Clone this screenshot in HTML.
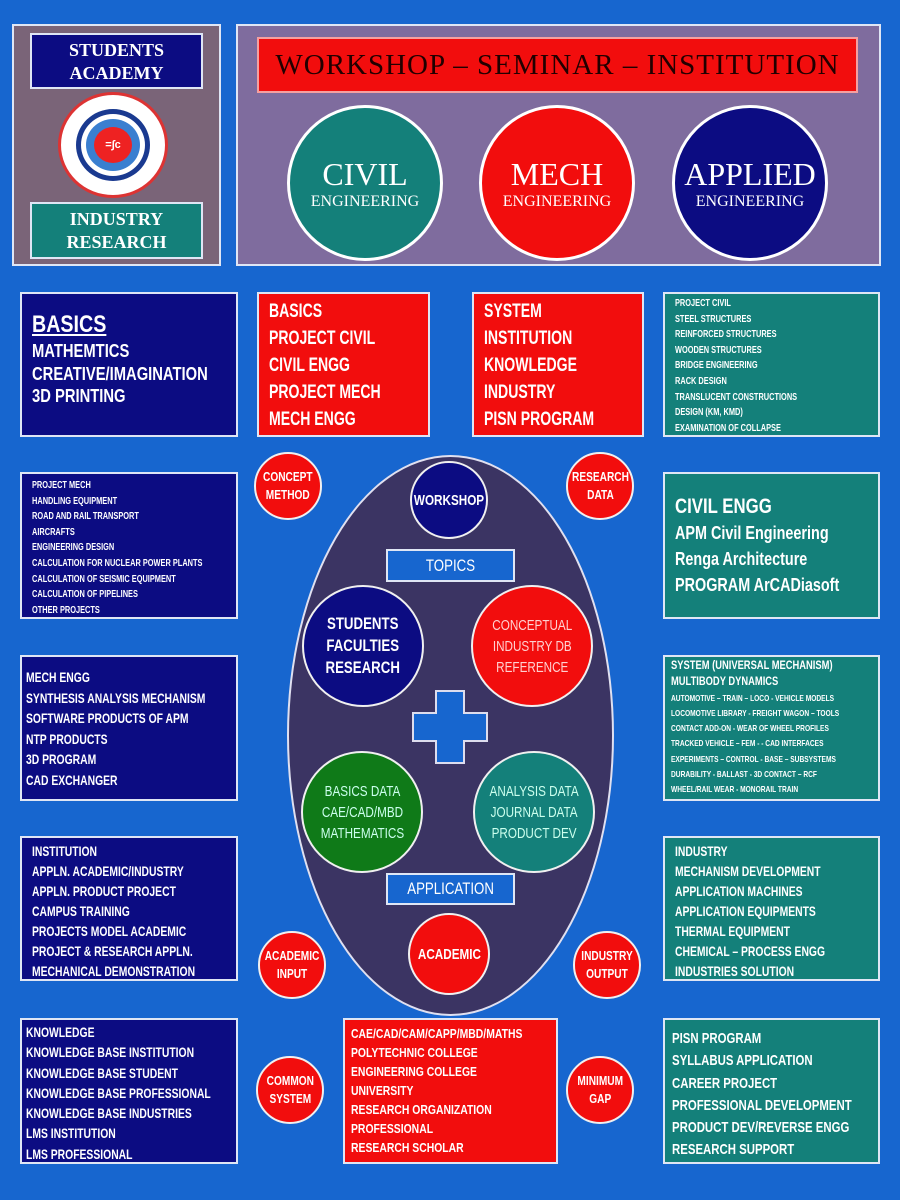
<!DOCTYPE html><html><head><style>
body{margin:0;width:900px;height:1200px;background:#1766cf;position:relative;overflow:hidden;font-family:"Liberation Sans",sans-serif;font-weight:bold;color:#fff}
div{position:absolute;box-sizing:border-box}
.b{border:2px solid #dfe6f5}
.nv{background:#0c0c82}.rd{background:#f20d0d}.tl{background:#14807a}
.c{border-radius:50%;border:2px solid #f0f0f0;display:flex;flex-direction:column;align-items:center;justify-content:center;text-align:center;white-space:nowrap}
.serif{font-family:"Liberation Serif",serif}
.t{padding:6px 10px;line-height:1.25;white-space:nowrap;overflow:hidden}
.s{display:inline-block;transform:scaleX(.74);transform-origin:0 0}
.cs{display:inline-block;transform:scaleX(.78)}
</style></head><body>
<div class="b" style="left:12px;top:24px;width:209px;height:242px;background:#7a6478"></div>
<div class="b" style="left:236px;top:24px;width:645px;height:242px;background:#7f6c9e"></div>
<div class="b nv serif" style="left:30px;top:33px;width:173px;height:56px;text-align:center;font-size:18px;line-height:23px;padding-top:4px">STUDENTS<br>ACADEMY</div>
<div class="b tl serif" style="left:30px;top:202px;width:173px;height:57px;text-align:center;font-size:18px;line-height:23px;padding-top:4px">INDUSTRY<br>RESEARCH</div>
<div class="c" style="left:58px;top:92px;width:110px;height:106px;background:#fff;border:3px solid #d33"></div>
<div class="c" style="left:76px;top:109px;width:74px;height:72px;background:#fff;border:5px solid #1a3a90"></div>
<div class="c" style="left:86px;top:119px;width:54px;height:52px;background:#3a7fd0;border:0"></div>
<div class="c" style="left:94px;top:127px;width:38px;height:36px;background:#e22;border:0;font-size:11px">=∫c</div>
<div class="rd serif" style="left:257px;top:37px;width:601px;height:56px;border:2px solid #f5a0a0;color:#220000;font-size:29px;text-align:center;line-height:52px;white-space:nowrap;font-weight:normal;letter-spacing:1px">WORKSHOP – SEMINAR – INSTITUTION</div>
<div class="c tl serif" style="left:287px;top:105px;width:156px;height:156px;border:3px solid #fff;font-weight:normal"><span style="font-size:32px">CIVIL</span><span style="font-size:16px">ENGINEERING</span></div>
<div class="c rd serif" style="left:479px;top:105px;width:156px;height:156px;border:3px solid #fff;font-weight:normal"><span style="font-size:32px">MECH</span><span style="font-size:16px">ENGINEERING</span></div>
<div class="c nv serif" style="left:672px;top:105px;width:156px;height:156px;border:3px solid #fff;font-weight:normal"><span style="font-size:32px">APPLIED</span><span style="font-size:16px">ENGINEERING</span></div>

<div class="b nv t" style="left:20px;top:292px;width:218px;height:145px;font-size:18px;padding-top:16px"><span class="s" style="transform:scaleX(.82)"><span style="font-size:24px;text-decoration:underline">BASICS</span><br>MATHEMTICS<br>CREATIVE/IMAGINATION<br>3D PRINTING</span></div>
<div class="b rd t" style="left:257px;top:292px;width:173px;height:145px;font-size:19px;line-height:27px;padding-top:4px"><span class="s">BASICS<br>PROJECT CIVIL<br>CIVIL ENGG<br>PROJECT MECH<br>MECH ENGG</span></div>
<div class="b rd t" style="left:472px;top:292px;width:172px;height:145px;font-size:19px;line-height:27px;padding-top:4px"><span class="s">SYSTEM<br>INSTITUTION<br>KNOWLEDGE<br>INDUSTRY<br>PISN PROGRAM</span></div>
<div class="b tl t" style="left:663px;top:292px;width:217px;height:145px;font-size:10px;line-height:15.6px;padding-top:2px"><span class="s">PROJECT CIVIL<br>STEEL STRUCTURES<br>REINFORCED STRUCTURES<br>WOODEN STRUCTURES<br>BRIDGE ENGINEERING<br>RACK DESIGN<br>TRANSLUCENT CONSTRUCTIONS<br>DESIGN (KM, KMD)<br>EXAMINATION OF COLLAPSE</span></div>

<div class="b nv t" style="left:20px;top:472px;width:218px;height:147px;font-size:10px;line-height:15.6px;padding-top:4px"><span class="s">PROJECT MECH<br>HANDLING EQUIPMENT<br>ROAD AND RAIL TRANSPORT<br>AIRCRAFTS<br>ENGINEERING DESIGN<br>CALCULATION FOR NUCLEAR POWER PLANTS<br>CALCULATION OF SEISMIC EQUIPMENT<br>CALCULATION OF PIPELINES<br>OTHER PROJECTS</span></div>
<div class="b tl t" style="left:663px;top:472px;width:217px;height:147px;font-size:18px;line-height:26px;padding-top:20px"><span class="s" style="transform:scaleX(.8)"><span style="font-size:21px">CIVIL ENGG</span><br>APM Civil Engineering<br>Renga Architecture<br>PROGRAM ArCADiasoft</span></div>
<div class="b nv t" style="left:20px;top:655px;width:218px;height:146px;font-size:14px;line-height:20.5px;padding-top:10px;padding-left:4px"><span class="s">MECH ENGG<br>SYNTHESIS ANALYSIS MECHANISM<br>SOFTWARE PRODUCTS OF APM<br>NTP PRODUCTS<br>3D PROGRAM<br>CAD EXCHANGER</span></div>
<div class="b tl t" style="left:663px;top:655px;width:217px;height:146px;font-size:8.5px;line-height:15.3px;padding-top:1px;padding-left:6px"><span class="s" style="transform:scaleX(.78)"><span style="font-size:12px">SYSTEM (UNIVERSAL MECHANISM)<br>MULTIBODY DYNAMICS</span><br>AUTOMOTIVE – TRAIN – LOCO - VEHICLE MODELS<br>LOCOMOTIVE LIBRARY - FREIGHT WAGON – TOOLS<br>CONTACT ADD-ON - WEAR OF WHEEL PROFILES<br>TRACKED VEHICLE – FEM - - CAD INTERFACES<br>EXPERIMENTS – CONTROL - BASE – SUBSYSTEMS<br>DURABILITY - BALLAST - 3D CONTACT – RCF<br>WHEEL/RAIL WEAR - MONORAIL TRAIN<br>DRIVELINE - MAGLEV</span></div>
<div class="b nv t" style="left:20px;top:836px;width:218px;height:145px;font-size:14px;line-height:20px;padding-top:3px"><span class="s">INSTITUTION<br>APPLN. ACADEMIC/INDUSTRY<br>APPLN. PRODUCT PROJECT<br>CAMPUS TRAINING<br>PROJECTS MODEL ACADEMIC<br>PROJECT &amp; RESEARCH APPLN.<br>MECHANICAL DEMONSTRATION</span></div>
<div class="b tl t" style="left:663px;top:836px;width:217px;height:145px;font-size:14px;line-height:20px;padding-top:3px"><span class="s">INDUSTRY<br>MECHANISM DEVELOPMENT<br>APPLICATION MACHINES<br>APPLICATION EQUIPMENTS<br>THERMAL EQUIPMENT<br>CHEMICAL – PROCESS ENGG<br>INDUSTRIES SOLUTION</span></div>
<div class="b nv t" style="left:20px;top:1018px;width:218px;height:146px;font-size:14px;line-height:20.3px;padding-top:2px;padding-left:4px"><span class="s">KNOWLEDGE<br>KNOWLEDGE BASE INSTITUTION<br>KNOWLEDGE BASE STUDENT<br>KNOWLEDGE BASE PROFESSIONAL<br>KNOWLEDGE BASE INDUSTRIES<br>LMS INSTITUTION<br>LMS PROFESSIONAL</span></div>
<div class="b rd t" style="left:343px;top:1018px;width:215px;height:146px;font-size:13px;line-height:19px;padding-top:4px;padding-left:6px"><span class="s" style="transform:scaleX(.8)">CAE/CAD/CAM/CAPP/MBD/MATHS<br>POLYTECHNIC COLLEGE<br>ENGINEERING COLLEGE<br>UNIVERSITY<br>RESEARCH ORGANIZATION<br>PROFESSIONAL<br>RESEARCH SCHOLAR</span></div>
<div class="b tl t" style="left:663px;top:1018px;width:217px;height:146px;font-size:15px;line-height:22.3px;padding-top:8px;padding-left:7px"><span class="s" style="transform:scaleX(.76)">PISN PROGRAM<br>SYLLABUS APPLICATION<br>CAREER PROJECT<br>PROFESSIONAL DEVELOPMENT<br>PRODUCT DEV/REVERSE ENGG<br>RESEARCH SUPPORT</span></div>

<div style="left:287px;top:455px;width:327px;height:561px;border-radius:50%;background:#3b3463;border:2px solid #e0e0f0"></div>
<div class="c nv" style="left:410px;top:461px;width:78px;height:78px;font-size:15px"><span class="cs">WORKSHOP</span></div>
<div class="b" style="left:386px;top:549px;width:129px;height:33px;background:#1766cf;text-align:center;font-size:17px;line-height:29px;font-weight:normal"><span class="cs">TOPICS</span></div>
<div class="c nv" style="left:302px;top:585px;width:122px;height:122px;font-size:17px;line-height:22px"><span class="cs">STUDENTS<br>FACULTIES<br>RESEARCH</span></div>
<div class="c rd" style="left:471px;top:585px;width:122px;height:122px;font-size:15px;line-height:21px;font-weight:normal;color:#ffd0d0"><span class="cs">CONCEPTUAL<br>INDUSTRY DB<br>REFERENCE</span></div>
<div style="left:435px;top:690px;width:30px;height:74px;background:#1766cf;border:2px solid #dde"></div>
<div style="left:412px;top:712px;width:76px;height:30px;background:#1766cf;border:2px solid #dde"></div>
<div style="left:437px;top:692px;width:26px;height:70px;background:#1766cf"></div>
<div class="c" style="left:301px;top:751px;width:122px;height:122px;background:#0f7a18;font-size:15px;line-height:21px;font-weight:normal;color:#cfe"><span class="cs">BASICS DATA<br>CAE/CAD/MBD<br>MATHEMATICS</span></div>
<div class="c tl" style="left:473px;top:751px;width:122px;height:122px;font-size:15px;line-height:21px;font-weight:normal;color:#cfe"><span class="cs">ANALYSIS DATA<br>JOURNAL DATA<br>PRODUCT DEV</span></div>
<div class="b" style="left:386px;top:873px;width:129px;height:32px;background:#1766cf;text-align:center;font-size:17px;line-height:28px;font-weight:normal"><span class="cs">APPLICATION</span></div>
<div class="c rd" style="left:408px;top:913px;width:82px;height:82px;font-size:15px"><span class="cs">ACADEMIC</span></div>

<div class="c rd" style="left:254px;top:452px;width:68px;height:68px;font-size:13px;line-height:18px"><span class="cs">CONCEPT<br>METHOD</span></div>
<div class="c rd" style="left:566px;top:452px;width:68px;height:68px;font-size:13px;line-height:18px"><span class="cs">RESEARCH<br>DATA</span></div>
<div class="c rd" style="left:258px;top:931px;width:68px;height:68px;font-size:13px;line-height:18px"><span class="cs">ACADEMIC<br>INPUT</span></div>
<div class="c rd" style="left:573px;top:931px;width:68px;height:68px;font-size:13px;line-height:18px"><span class="cs">INDUSTRY<br>OUTPUT</span></div>
<div class="c rd" style="left:256px;top:1056px;width:68px;height:68px;font-size:13px;line-height:18px"><span class="cs">COMMON<br>SYSTEM</span></div>
<div class="c rd" style="left:566px;top:1056px;width:68px;height:68px;font-size:13px;line-height:18px"><span class="cs">MINIMUM<br>GAP</span></div>
</body></html>
